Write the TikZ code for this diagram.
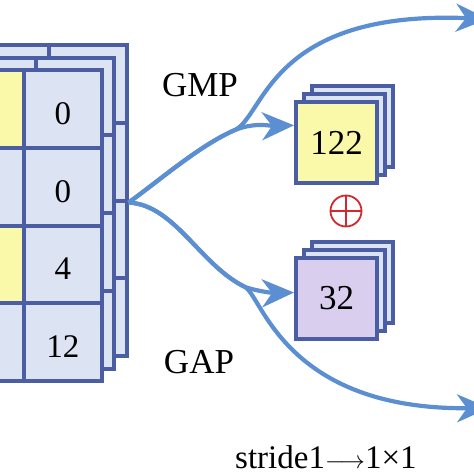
\documentclass[tikz,border=0pt]{standalone}
\usepackage{fontspec}
\setmainfont{Liberation Serif}
\usetikzlibrary{arrows.meta}

\definecolor{gridline}{HTML}{4B5EA3}
\definecolor{cellblue}{HTML}{DCE4F4}
\definecolor{cellyellow}{HTML}{F9F9A9}
\definecolor{celllilac}{HTML}{D9CEEE}
\definecolor{flowblue}{HTML}{5B8FD2}
\definecolor{sumred}{HTML}{D2282E}

\tikzset{
  cell/.style={draw=gridline, line width=4pt, fill=cellblue, minimum size=77.75pt,
    inner sep=0pt, font=\fontsize{33}{33}\selectfont, text height=31pt, text depth=0pt},
  mapbox/.style={draw=gridline, line width=4pt, fill=cellblue, minimum size=81pt,
    inner sep=0pt, font=\fontsize{35}{35}\selectfont},
  flow/.style={draw=flowblue, line width=4.2pt,
    -{Stealth[length=32pt, width=28pt, inset=10pt]}},
  poolname/.style={font=\fontsize{35}{35}\selectfont}
}

\begin{document}
\begin{tikzpicture}[x=1pt, y=-1pt]
\useasboundingbox (0,0) rectangle (474,474);

% feature map, back layers first
\foreach \k in {2,1}
  \foreach \r in {1,...,4}
    \foreach \c in {1,2}
      \node[cell] (cell-\k-\r-\c) at ({-15+77.75*(\c-1)+12.5*\k}, {108.9+77.75*(\r-1)-12.5*\k}) {};

% front layer
\foreach \r/\fa/\num in {1/cellyellow/0, 2/cellblue/0, 3/cellyellow/4, 4/cellblue/12} {
  \node[cell, fill=\fa] (cell-0-\r-1) at (-15, {108.9+77.75*(\r-1)}) {};
  \node[cell] (cell-0-\r-2) at (62.75, {108.9+77.75*(\r-1)}) {\num};
}

% pooled maps
\foreach \s in {16,8} {
  \node[mapbox] (gmp-\s) at (336.5+\s, 142.5-\s) {};
  \node[mapbox] (gap-\s) at (336.5+\s, 298.5-\s) {};
}
\node[mapbox, fill=cellyellow] (gmp) at (336.5,142.5) {122};
\node[mapbox, fill=celllilac] (gap) at (336.5,298.5) {32};

% sum sign
\node[circle, draw=sumred, line width=1.8pt, minimum size=31pt, inner sep=0pt] (sum) at (346,211) {};
\draw[sumred, line width=1.8pt] (sum.north) -- (sum.south) (sum.west) -- (sum.east);

\node[poolname] (gmplabel) at (200,85) {GMP};
\node[poolname] (gaplabel) at (199,362) {GAP};
\node[anchor=base west, inner sep=0pt, font=\fontsize{33}{33}\selectfont] (stride) at (235,468)
  {stride1$\longrightarrow$1×1};

\coordinate (src) at (cell-2-2-2.south east);
\coordinate (upsplit) at (235,130);
\coordinate (lowsplit) at (245,287);
\coordinate (outtop) at (488,19);
\coordinate (outbot) at (489,408);

\draw[flow] (src) .. controls (160,180) and (200,145) .. (upsplit)
  .. controls (265,115) and (270,10) .. (outtop);
\draw[flow] (src) .. controls (160,180) and (200,145) .. (upsplit)
  .. controls (255,122) and (270,126) .. (gmp.158);
\draw[flow] (src) .. controls (175,205) and (200,265) .. (lowsplit)
  .. controls (260,292) and (275,293) .. (gap.172);
\draw[flow] (src) .. controls (175,205) and (200,265) .. (lowsplit)
  .. controls (262,296) and (285,410) .. (outbot);
\end{tikzpicture}
\end{document}
